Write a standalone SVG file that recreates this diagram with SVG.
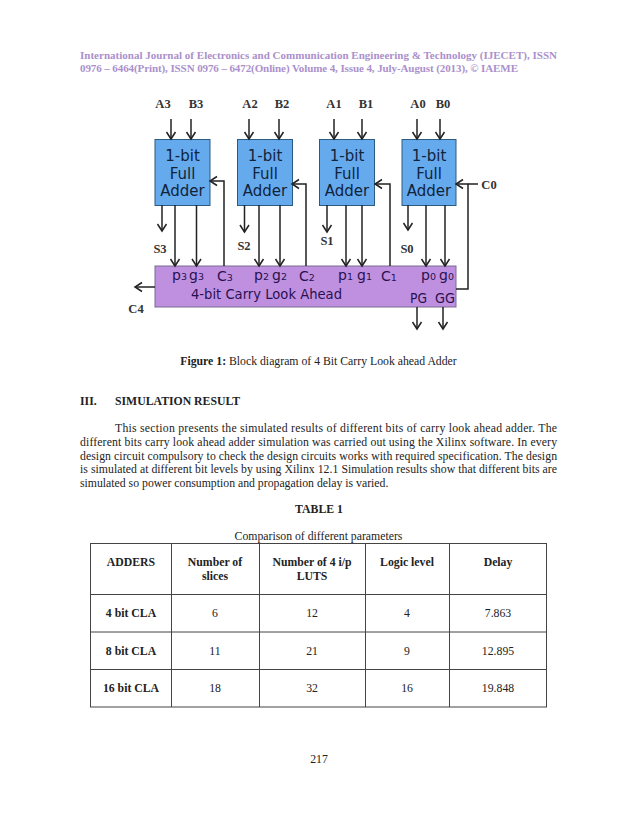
<svg xmlns="http://www.w3.org/2000/svg" width="638" height="826" viewBox="0 0 638 826">
<style>
.t{font-family:"Liberation Serif",serif;font-size:11.75px;fill:#222}
.b{font-weight:bold}
.h{font-family:"Liberation Serif",serif;font-size:11px;font-weight:bold;fill:#ab90cc}
.m{text-anchor:middle}
.lb{font-family:"Liberation Serif",serif;font-size:12.5px;font-weight:bold;fill:#333;text-anchor:middle}
.fa{fill:#66aaee;stroke:#2b5c80;stroke-width:1}
.fat{font-family:"DejaVu Sans",sans-serif;font-size:15px;fill:#10243c;text-anchor:middle}
.p{font-family:"DejaVu Sans",sans-serif;font-size:14px;fill:#2a1050}
.s{font-size:9.500px}
.c{fill:none;stroke:#222;stroke-width:1.500}
.tb{fill:none;stroke:#444;stroke-width:1}
</style>
<defs>
<marker id="a" markerUnits="userSpaceOnUse" markerWidth="12" markerHeight="12" refX="10" refY="6" orient="auto"><path d="M3 1.500L10 6L3 10.500" fill="none" stroke="#222" stroke-width="1.500"/></marker>
</defs>
<rect width="638" height="826" fill="#fff"/>
<g id="header">
<text class="h" x="80" y="59" textLength="477" lengthAdjust="spacing">International Journal of Electronics and Communication Engineering &amp; Technology (IJECET), ISSN</text>
<text class="h" x="80" y="72" textLength="438" lengthAdjust="spacing">0976 – 6464(Print), ISSN 0976 – 6472(Online) Volume 4, Issue 4, July-August (2013), © IAEME</text>
</g>
<g id="cla"><rect x="155" y="266" width="301" height="41" fill="#bf90e0" stroke="#7a6a90"/>
<text class="p" x="172" y="280">p<tspan class="s">3</tspan></text>
<text class="p" x="189" y="280">g<tspan class="s">3</tspan></text>
<text class="p" x="217" y="281">C<tspan class="s">3</tspan></text>
<text class="p" x="254" y="280">p<tspan class="s">2</tspan></text>
<text class="p" x="272" y="280">g<tspan class="s">2</tspan></text>
<text class="p" x="299" y="281">C<tspan class="s">2</tspan></text>
<text class="p" x="338" y="280">p<tspan class="s">1</tspan></text>
<text class="p" x="357" y="280">g<tspan class="s">1</tspan></text>
<text class="p" x="381" y="281">C<tspan class="s">1</tspan></text>
<text class="p" x="421" y="280">p<tspan class="s">0</tspan></text>
<text class="p" x="439" y="280">g<tspan class="s">0</tspan></text>
<text class="p" x="191" y="299" textLength="151" lengthAdjust="spacingAndGlyphs">4-bit Carry Look Ahead</text>
<text class="p" x="410" y="303" textLength="17" lengthAdjust="spacingAndGlyphs">PG</text>
<text class="p" x="435" y="303" textLength="20" lengthAdjust="spacingAndGlyphs">GG</text>
</g>
<g id="fa3"><rect class="fa" x="155" y="139.500" width="55" height="66"/><text class="fat" x="182.500" y="161">1-bit</text><text class="fat" x="182.500" y="178.500">Full</text><text class="fat" x="182.500" y="196">Adder</text></g>
<g id="fa2"><rect class="fa" x="237.500" y="139.500" width="55" height="66"/><text class="fat" x="265" y="161">1-bit</text><text class="fat" x="265" y="178.500">Full</text><text class="fat" x="265" y="196">Adder</text></g>
<g id="fa1"><rect class="fa" x="319.500" y="139.500" width="55" height="66"/><text class="fat" x="347" y="161">1-bit</text><text class="fat" x="347" y="178.500">Full</text><text class="fat" x="347" y="196">Adder</text></g>
<g id="fa0"><rect class="fa" x="402" y="139.500" width="54" height="66"/><text class="fat" x="429" y="161">1-bit</text><text class="fat" x="429" y="178.500">Full</text><text class="fat" x="429" y="196">Adder</text></g>
<g id="connectors" class="c" marker-end="url(#a)">
<path d="M171 119V139"/><path d="M191 119V139"/><path d="M249 119V139"/><path d="M279 119V139"/><path d="M334 119V139"/><path d="M362 119V139"/><path d="M417 119V139"/><path d="M440 119V139"/>
<path d="M162 205V231"/><path d="M175 205V266"/><path d="M196.500 205V266"/><path d="M224 266V181H210"/>
<path d="M244.500 205V232"/><path d="M259 205V266"/><path d="M280 205V266"/><path d="M306 266V184H292"/>
<path d="M327 205V232"/><path d="M346 205V266"/><path d="M362 205V266"/><path d="M390 266V184H375"/>
<path d="M408 205V230"/><path d="M426 205V266"/><path d="M445 205V266"/><path d="M456 289H468V184H456"/><path d="M478 184H468" marker-end="none"/>
<path d="M155 287H135"/><path d="M417 307V329"/><path d="M443 307V329"/>
</g>
<g id="labels">
<text class="lb" x="163" y="108">A3</text><text class="lb" x="196" y="108">B3</text>
<text class="lb" x="250" y="108">A2</text><text class="lb" x="282" y="108">B2</text>
<text class="lb" x="334" y="108">A1</text><text class="lb" x="366" y="108">B1</text>
<text class="lb" x="418" y="108">A0</text><text class="lb" x="443" y="108">B0</text>
<text class="lb" x="160" y="253">S3</text><text class="lb" x="244" y="250">S2</text><text class="lb" x="327" y="245">S1</text><text class="lb" x="407" y="253">S0</text>
<text class="lb" x="489" y="189">C0</text><text class="lb" x="136" y="313">C4</text>
</g>
<g id="body">
<text class="t m" x="318.500" y="365"><tspan class="b">Figure 1:</tspan> Block diagram of 4 Bit Carry Look ahead Adder</text>
<text class="t b" x="80" y="405">III.</text><text class="t b" x="115" y="405">SIMULATION RESULT</text>
<text class="t" x="115" y="432" textLength="442">This section presents the simulated results of different bits of carry look ahead adder. The</text>
<text class="t" x="80" y="446" textLength="477">different bits carry look ahead adder simulation was carried out using the Xilinx software. In every</text>
<text class="t" x="80" y="460" textLength="477">design circuit compulsory to check the design circuits works with required specification.  The design</text>
<text class="t" x="80" y="473" textLength="477">is simulated at different bit levels by using Xilinx 12.1 Simulation results show that different bits are</text>
<text class="t" x="80" y="487">simulated so power consumption and propagation delay is varied.</text>
<text class="t b m" x="319" y="513">TABLE 1</text>
<text class="t m" x="318.500" y="540">Comparison of different parameters</text>
</g>
<g id="table">
<rect class="tb" x="90.500" y="543.500" width="456" height="163.500"/>
<path class="tb" d="M90 594.500H547M90 632H547M90 669.500H547M171.500 543V707M259.500 543V707M365.500 543V707M449.500 543V707"/>
<g class="t b m"><text x="131" y="566">ADDERS</text><text x="215" y="566">Number of</text><text x="215" y="580">slices</text><text x="312" y="566">Number of 4 i/p</text><text x="312" y="580">LUTS</text><text x="407" y="566">Logic level</text><text x="498" y="566">Delay</text>
<text x="131" y="617">4 bit  CLA</text><text x="131" y="655">8 bit CLA</text><text x="131" y="692">16 bit CLA</text></g>
<g class="t m"><text x="215" y="617">6</text><text x="312" y="617">12</text><text x="407" y="617">4</text><text x="498" y="617">7.863</text>
<text x="215" y="655">11</text><text x="312" y="655">21</text><text x="407" y="655">9</text><text x="498" y="655">12.895</text>
<text x="215" y="692">18</text><text x="312" y="692">32</text><text x="407" y="692">16</text><text x="498" y="692">19.848</text></g>
</g>
<text class="t m" x="319" y="763" id="page">217</text>
</svg>
